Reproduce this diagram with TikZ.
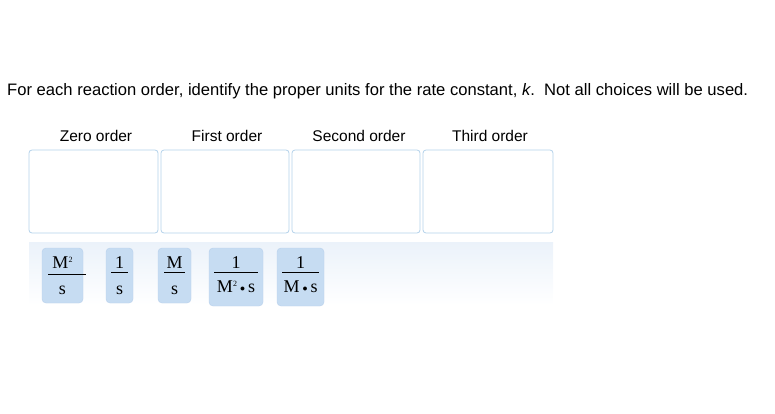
\documentclass[tikz,border=0pt]{standalone}
\usepackage{fontspec}
\setmainfont{Liberation Sans}
\newfontfamily\serifm{Liberation Serif}
\definecolor{tilefill}{RGB}{198,220,242}
\definecolor{tileedge}{RGB}{184,208,236}
\definecolor{boxedge}{RGB}{180,210,235}
\definecolor{tray}{RGB}{235,242,250}
\begin{document}
\begin{tikzpicture}[x=1pt,y=-1pt,
  dropbox/.style={draw=boxedge, line width=0.8pt, rounded corners=3pt, fill=white},
  tile/.style={fill=tilefill, draw=tileedge, rounded corners=4pt},
  hdr/.style={font=\fontsize{15.5}{17}\selectfont, anchor=center},
  num/.style={font=\serifm\fontsize{18}{19}\selectfont, anchor=center, inner sep=1pt}]
\useasboundingbox (0,0) rectangle (775,414);
\node[anchor=west, font=\fontsize{16.6}{19}\selectfont, inner sep=0pt] (q) at (7,91) {For each reaction order, identify the proper units for the rate constant, \textit{k}.\ \ Not all choices will be used.};
\node[hdr] (h1) at (96,136) {Zero order};
\node[hdr] (h2) at (227,136) {First order};
\node[hdr] (h3) at (359,136) {Second order};
\node[hdr] (h4) at (490,136) {Third order};
\draw[dropbox] (29,150) rectangle (158,233);
\draw[dropbox] (161,150) rectangle (289,233);
\draw[dropbox] (292,150) rectangle (420,233);
\draw[dropbox] (423,150) rectangle (553,233);
\shade[top color=tray, bottom color=white] (29,242) rectangle (553,305);
\draw[tile] (42,248) rectangle (83,303);
\draw[tile] (106,248) rectangle (133,303);
\draw[tile] (158,248) rectangle (191,303);
\draw[tile] (209,248) rectangle (263,306);
\draw[tile] (277,248) rectangle (324,306);
% fractions
\node[num] (n1) at (62.5,263) {M\raisebox{0.8ex}{\fontsize{8}{8}\selectfont 2}};
\draw (n1.south west) ++(-3,4) coordinate (a1) -- ++(38,0);
\node[num] (d1) at (62.5,290) {s};
\node[num] (n2) at (119.5,263) {1};
\draw (106,272.5) ++(5,0) -- ++(17,0);
\node[num] (d2) at (119.5,290) {s};
\node[num] (n3) at (174.5,263) {M};
\draw (158,272.5) ++(6,0) -- ++(21,0);
\node[num] (d3) at (174.5,290) {s};
\node[num] (n4) at (236,263) {1};
\draw (209,272.5) ++(5,0) -- ++(44,0);
\node[num] (d4) at (236,287) {M\raisebox{0.8ex}{\fontsize{8}{8}\selectfont 2}\,\raisebox{0.15ex}{\fontsize{10}{10}\selectfont$\bullet$}\,s};
\node[num] (n5) at (300.5,263) {1};
\draw (277,272.5) ++(5,0) -- ++(37,0);
\node[num] (d5) at (300.5,287) {M\,\raisebox{0.15ex}{\fontsize{10}{10}\selectfont$\bullet$}\,s};
\end{tikzpicture}
\end{document}
